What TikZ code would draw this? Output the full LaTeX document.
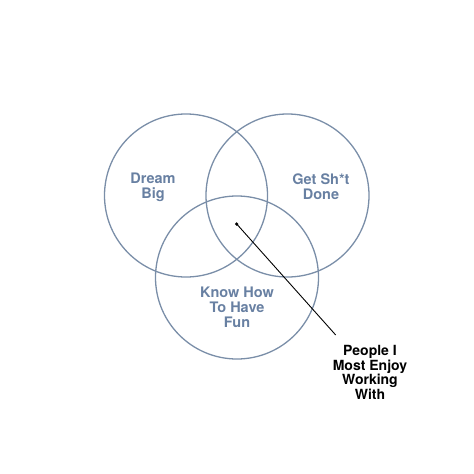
\documentclass[tikz,border=0pt]{standalone}
\usepackage{fontspec}
\setmainfont{TeX Gyre Heros}
\usepackage{tikz}
\definecolor{VennBlue}{RGB}{122, 142, 168}
\definecolor{LabelBlue}{RGB}{104, 128, 162}

\begin{document}
\begin{tikzpicture}[x=1pt, y=-1pt,
    venn/.style={VennBlue, line width=1.3pt},
    setlabel/.style={LabelBlue, font=\bfseries\fontsize{14.5}{15}\selectfont, align=center},
    calllabel/.style={black, font=\bfseries\fontsize{14}{14.5}\selectfont, align=center}]
    \useasboundingbox (0,0) rectangle (474,474);
    % Three sets
    \foreach \cx/\cy in {186/195.5, 287.5/195.5, 237/277.5} {
        \draw[venn] (\cx,\cy) circle (81.5);
    }
    % Set names
    \node[setlabel] (dream) at (153,187) {Dream\\Big};
    \node[setlabel] (done) at (321,187) {Get Sh*t\\Done};
    \node[setlabel] (fun) at (237,307) {Know How\\To Have\\Fun};
    % Pointer to the middle
    \fill (236.7,224) circle (1.8) coordinate (mid);
    \coordinate (tip) at (335.7,335);
    \node[calllabel, anchor=north] (people) at (370,342) {People I\\Most Enjoy\\Working\\With};
    \draw[line width=0.9pt] (mid) -- (tip);
\end{tikzpicture}
\end{document}
